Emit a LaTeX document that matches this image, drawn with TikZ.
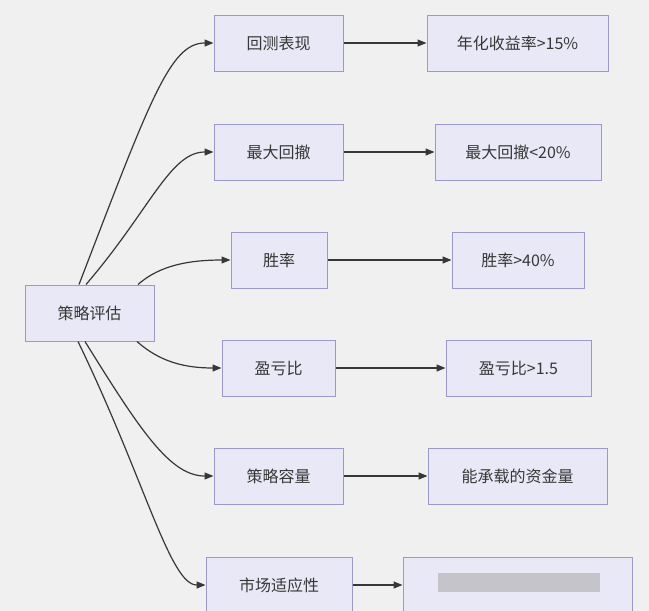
\documentclass[tikz,border=0pt]{standalone}
\usepackage{fontspec}
\setmainfont{Noto Sans CJK SC}
\usetikzlibrary{positioning,arrows.meta}
\definecolor{bgcol}{RGB}{240,240,240}
\definecolor{boxfill}{RGB}{232,232,246}
\definecolor{boxline}{RGB}{155,153,204}
\definecolor{inkcol}{RGB}{55,55,55}
\definecolor{blurcol}{RGB}{196,196,202}

\begin{document}
\begin{tikzpicture}[
  x=1pt, y=-1pt,
  every node/.style={font=\fontsize{16}{19}\selectfont, text=inkcol},
  box/.style={draw=boxline, fill=boxfill, line width=1pt, minimum height=56pt, inner xsep=4pt, inner ysep=0pt},
  arrow/.style={draw=inkcol, line width=1.2pt, -{Triangle[length=9pt,width=7pt]}}
]

% Background
\fill[bgcol] (0,0) rectangle (649,611);
\useasboundingbox (0,0) rectangle (649,611);

% Nodes
\node[box, minimum width=129pt] (eval) at (89.5,313) {策略评估};

\node[box, minimum width=129pt] (backtest) at (278.5,43) {回测表现};
\node[box, minimum width=129pt] (drawdown) at (278.5,152) {最大回撤};
\node[box, minimum width=96pt] (winrate) at (279,260) {胜率};
\node[box, minimum width=113pt] (pnl) at (278.5,368) {盈亏比};
\node[box, minimum width=129pt] (capacity) at (278.5,476) {策略容量};
\node[box, minimum width=146pt] (adapt) at (279,585) {市场适应性};

\node[box, minimum width=181pt] (annual) at (517.5,43) {年化收益率>15\%};
\node[box, minimum width=166pt] (ddlimit) at (518,152) {最大回撤<20\%};
\node[box, minimum width=132pt] (wrlimit) at (518,260) {胜率>40\%};
\node[box, minimum width=145pt] (pnllimit) at (518.5,368) {盈亏比>1.5};
\node[box, minimum width=179pt] (funds) at (517.5,476) {能承载的资金量};
\node[box, minimum width=229pt] (adaptres) at (517.5,585) {};
\fill[blurcol] (438,573) rectangle (600,592);

% Arrows
\draw[arrow] ([xshift=-10.5pt]eval.north) .. controls (150,100) and (170,43) .. (backtest.west);
\draw[arrow] ([xshift=-3.5pt]eval.north) .. controls (150,210) and (170,152) .. (drawdown.west);
\draw[arrow] ([xshift=48.5pt]eval.north) .. controls (160,265) and (190,260) .. (winrate.west);
\draw[arrow] ([xshift=47.5pt]eval.south) .. controls (160,362) and (185,368) .. (pnl.west);
\draw[arrow] ([xshift=-4.5pt]eval.south) .. controls (140,430) and (170,476) .. (capacity.west);
\draw[arrow] ([xshift=-11.5pt]eval.south) .. controls (145,480) and (170,585) .. (adapt.west);

\draw[arrow] (backtest) -- (annual);
\draw[arrow] (drawdown) -- (ddlimit);
\draw[arrow] (winrate) -- (wrlimit);
\draw[arrow] (pnl) -- (pnllimit);
\draw[arrow] (capacity) -- (funds);
\draw[arrow] (adapt) -- (adaptres);

\end{tikzpicture}
\end{document}
